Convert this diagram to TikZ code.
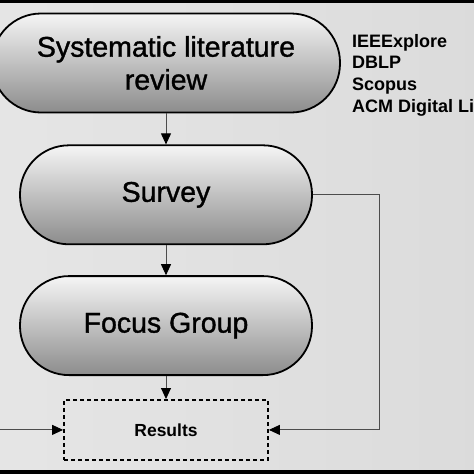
\documentclass[tikz,border=0pt]{standalone}
\usepackage{fontspec}
\setmainfont{Liberation Sans}
\newfontfamily\stagefont[FakeBold=1.2]{Liberation Sans}
\usepackage{xcolor}
\usetikzlibrary{arrows.meta, positioning, calc}

\begin{document}
\begin{tikzpicture}[x=1pt, y=-1pt,
    stage/.style={draw=black, line width=1.8pt, rounded corners=49pt,
        top color=black!4, bottom color=black!45, minimum width=292pt,
        minimum height=99pt, inner sep=0pt, align=center,
        font=\stagefont\fontsize{28.5}{33}\selectfont},
    result/.style={draw=black, line width=1.8pt, dash pattern=on 4pt off 3pt,
        minimum width=204pt, minimum height=60pt,
        font=\bfseries\fontsize{17.5}{21}\selectfont},
    flow/.style={draw=black!70, line width=0.9pt,
        -{Triangle[width=10pt, length=11pt, black]}}]
    \clip (0,0) rectangle (474,474);
    \shade[left color=black!10, right color=black!14] (0,0) rectangle (474,474);
    \fill[black] (0,0) rectangle (474,3);
    \fill[black] (0,470) rectangle (474,474);

    \node[stage, minimum width=348pt] (slr) at (166,63) {Systematic literature\\review};
    \node[stage, below=31pt of slr] (survey) {Survey};
    \node[stage, below=30pt of survey] (focus) {Focus Group};
    \node[result, below=23pt of focus] (results) {Results};
    \node[anchor=north west, inner sep=0pt, align=left,
        font=\bfseries\fontsize{18}{21.7}\selectfont] (sources) at (352,34)
        {IEEExplore\\DBLP\\Scopus\\ACM Digital Library};

    \coordinate[right=111pt of results.east] (bend);
    \coordinate[left=64pt of results.west] (inlet);
    \draw[flow] (slr) -- (survey);
    \draw[flow] (survey) -- (focus);
    \draw[flow] (focus) -- (results);
    \draw[flow] (survey.east) -| (bend) -- (results.east);
    \draw[flow] (inlet) -- (results.west);
\end{tikzpicture}
\end{document}
